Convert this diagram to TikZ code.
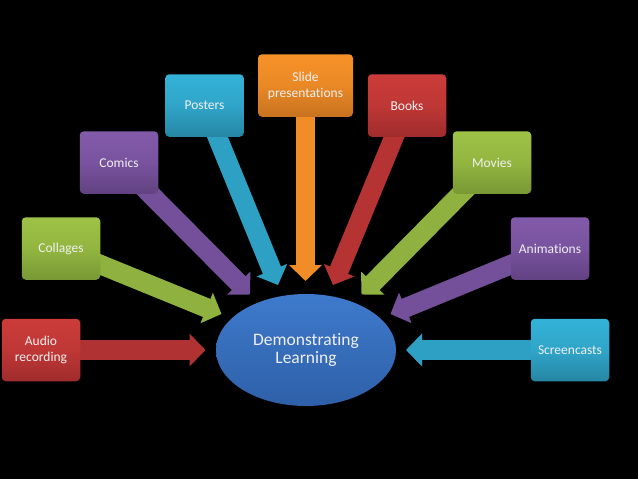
\documentclass[tikz,border=0pt]{standalone}
\usepackage{fontspec}
\setmainfont[Ligatures=NoCommon]{Carlito}
\usetikzlibrary{shapes.geometric,arrows.meta,positioning,backgrounds}
\definecolor{REDTOP}{RGB}{203,60,58}
\definecolor{REDBOT}{RGB}{160,44,44}
\definecolor{GREENTOP}{RGB}{158,194,70}
\definecolor{GREENBOT}{RGB}{120,152,52}
\definecolor{PURPLETOP}{RGB}{130,90,170}
\definecolor{PURPLEBOT}{RGB}{98,66,130}
\definecolor{TEALTOP}{RGB}{52,178,216}
\definecolor{TEALBOT}{RGB}{38,134,164}
\definecolor{ORANGETOP}{RGB}{247,146,40}
\definecolor{ORANGEBOT}{RGB}{200,114,32}
\definecolor{BLUETOP}{RGB}{62,122,204}
\definecolor{BLUEBOT}{RGB}{46,96,168}
\definecolor{LABEL}{RGB}{240,240,240}
\begin{document}
\begin{tikzpicture}[x=1pt, y=1pt, node distance = 100pt]
% Define
\tikzstyle{RECTANGLE} = [rectangle, rounded corners=4pt, minimum width=78.5pt, minimum height=62.5pt, text centered, align=center, text=LABEL, font=\fontsize{13.5}{16}\selectfont, inner sep=0pt]
\tikzstyle{RECTANGLE_RED} = [RECTANGLE, top color=REDTOP, bottom color=REDBOT, middle color=REDTOP!70!REDBOT]
\tikzstyle{RECTANGLE_GREEN} = [RECTANGLE, top color=GREENTOP, bottom color=GREENBOT, middle color=GREENTOP!70!GREENBOT]
\tikzstyle{RECTANGLE_PURPLE} = [RECTANGLE, top color=PURPLETOP, bottom color=PURPLEBOT, middle color=PURPLETOP!70!PURPLEBOT]
\tikzstyle{RECTANGLE_TEAL} = [RECTANGLE, top color=TEALTOP, bottom color=TEALBOT, middle color=TEALTOP!70!TEALBOT]
\tikzstyle{RECTANGLE_ORANGE} = [RECTANGLE, top color=ORANGETOP, bottom color=ORANGEBOT, middle color=ORANGETOP!70!ORANGEBOT, minimum width=95pt]
\tikzstyle{ELLIPSE} = [ellipse, minimum width=180pt, minimum height=112pt, align=center, text=LABEL, top color=BLUETOP, bottom color=BLUEBOT, font=\fontsize{17.5}{18.5}\selectfont, inner sep=0pt]
\tikzstyle{ARROW} = [draw, line width=19.5pt, -{Triangle[length=16pt, width=32pt]}]
\useasboundingbox (0,0) rectangle (638,-479);
% Place nodes
\node [ELLIPSE] (learning) at (306,-350) {Demonstrating\\Learning};
\node [RECTANGLE_RED, left of=learning, xshift=-165pt] (audio) {Audio\\recording};
\node [RECTANGLE_GREEN, above of=audio, xshift=20pt, yshift=1.5pt] (collages) {Collages};
\node [RECTANGLE_PURPLE, above of=collages, xshift=58pt, yshift=-14pt] (comics) {Comics};
\node [RECTANGLE_TEAL, above of=comics, xshift=85.5pt, yshift=-43pt] (posters) {Posters};
\node [RECTANGLE_ORANGE, above of=learning, xshift=-.5pt, yshift=164.5pt] (slide) {Slide\\presentations};
\node [RECTANGLE_TEAL, right of=learning, xshift=164pt] (screencasts) {Screencasts};
\node [RECTANGLE_PURPLE, above of=screencasts, xshift=-20pt, yshift=1.5pt] (animations) {Animations};
\node [RECTANGLE_GREEN, above of=animations, xshift=-58pt, yshift=-14pt] (movies) {Movies};
\node [RECTANGLE_RED, above of=movies, xshift=-85pt, yshift=-43pt] (books) {Books};
% Arrow ends
\coordinate (tip_audio) at (205.5,-350);
\coordinate (tip_collages) at (221.5,-314);
\coordinate (tip_comics) at (250,-294.5);
\coordinate (tip_posters) at (278,-285);
\coordinate (tip_slide) at (305.5,-281);
\coordinate (tip_books) at (333,-285);
\coordinate (tip_movies) at (361.5,-294.5);
\coordinate (tip_animations) at (390.5,-314);
\coordinate (tip_screencasts) at (406,-350);
% LINES and ARROWS
\begin{pgfonlayer}{background}
\fill [black] (0,0) rectangle (638,-479);
\path [ARROW, color=REDBOT!60!REDTOP] (audio.center) -- (tip_audio);
\path [ARROW, color=GREENBOT!40!GREENTOP] (collages.center) -- (tip_collages);
\path [ARROW, color=PURPLEBOT!40!PURPLETOP] (comics.center) -- (tip_comics);
\path [ARROW, color=TEALBOT!40!TEALTOP] (posters.center) -- (tip_posters);
\path [ARROW, color=ORANGEBOT!15!ORANGETOP] (slide.center) -- (tip_slide);
\path [ARROW, color=REDBOT!50!REDTOP] (books.center) -- (tip_books);
\path [ARROW, color=GREENBOT!40!GREENTOP] (movies.center) -- (tip_movies);
\path [ARROW, color=PURPLEBOT!40!PURPLETOP] (animations.center) -- (tip_animations);
\path [ARROW, color=TEALBOT!40!TEALTOP] (screencasts.center) -- (tip_screencasts);
\end{pgfonlayer}
\end{tikzpicture}
\end{document}
